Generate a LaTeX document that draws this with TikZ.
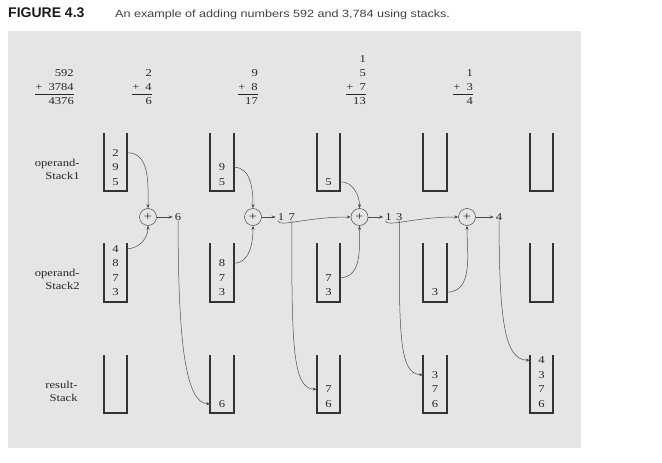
\documentclass[tikz,border=0pt]{standalone}
\usepackage{fontspec}
\setmainfont{Liberation Serif}[FakeStretch=1.2]
\newfontfamily\capfont{Liberation Sans}[FakeStretch=1.2]
\newfontfamily\figfont{Liberation Sans}
\usetikzlibrary{positioning,arrows.meta}
\newcommand{\plusgap}{+\hspace{6pt}}

\begin{document}
\begin{tikzpicture}[x=1pt,y=-1pt,every node/.style={text=black!85},stk/.style={minimum width=23pt, minimum height=58pt, inner sep=0pt},wall/.style={draw=black!80, line width=1.8pt},digit/.style={inner sep=0pt, text height=7pt, text depth=0pt, font=\fontsize{10.5}{12}\selectfont},plus/.style={circle, draw=black!70, line width=0.5pt, minimum size=17pt, inner sep=0pt, font=\fontsize{12}{12}\selectfont},link/.style={draw=black!70, line width=0.5pt, -{Stealth[length=4pt,width=3pt]}},sumrow/.style={anchor=base east, inner sep=0pt, font=\fontsize{10.5}{14}\selectfont},side/.style={align=right, inner sep=0pt, font=\fontsize{10.5}{13}\selectfont}]
\useasboundingbox (0,0) rectangle (662,463);
\fill[black!10] (8,31) rectangle (581,448);
\node[anchor=base west, inner sep=0pt, text=black!90, font=\figfont\fontsize{14}{14}\selectfont\bfseries] (fig) at (8,17) {FIGURE 4.3};
\node[anchor=base west, inner sep=0pt, text=black!75, font=\capfont\fontsize{10.5}{12}\selectfont] (cap) at (115,17) {An example of adding numbers 592 and 3,784 using stacks.};
% the three rows of stacks
\foreach \i/\x in {1/115.5,2/222,3/328.5,4/435,5/541.5} {
  \node[stk] (a\i) at (\x,162) {};
  \node[stk] (b\i) at (\x,272.5) {};
  \node[stk] (r\i) at (\x,384) {};
  \draw[wall] (a\i.north west) |- (a\i.south east) -- (a\i.north east);
  \draw[wall] (b\i.north west) |- (b\i.south east) -- (b\i.north east);
  \draw[wall] (r\i.north west) |- (r\i.south east) -- (r\i.north east);
}
\node[side, left=24pt of a1.west, yshift=-7pt] (lab1) {operand-\\Stack1};
\node[side, left=24pt of b1.west, yshift=-7pt] (lab2) {operand-\\Stack2};
\node[side, left=26pt of r1.west, yshift=-7pt] (lab3) {result-\\Stack};
% stack contents, bottom first
\foreach \s/\ds in {a1/{5,9,2},a2/{5,9},a3/{5},b1/{3,7,8,4},b2/{3,7,8},b3/{3,7},b4/{3},r2/{6},r3/{6,7},r4/{6,7,3},r5/{6,7,3,4}}
  \foreach \d [count=\k] in \ds
    \node[digit] (\s-\k) at ([yshift=9.5pt+14.5pt*(\k-1)]\s.south) {\d};
% sums on top
\node[sumrow] (ar0) at (74,104.5) {\begin{tabular}[b]{@{}r@{}}592\\\plusgap3784\\\hline 4376\end{tabular}};
\node[sumrow] (ar1) at (152,104.5) {\begin{tabular}[b]{@{}r@{}}2\\\plusgap4\\\hline 6\end{tabular}};
\node[sumrow] (ar2) at (258,104.5) {\begin{tabular}[b]{@{}r@{}}9\\\plusgap8\\\hline 17\end{tabular}};
\node[sumrow] (ar3) at (366,104.5) {\begin{tabular}[b]{@{}r@{}}1\\5\\\plusgap7\\\hline 13\end{tabular}};
\node[sumrow] (ar4) at (473,104.5) {\begin{tabular}[b]{@{}r@{}}1\\\plusgap3\\\hline 4\end{tabular}};
% adders
\foreach \i/\x in {1/148,2/253,3/359.5,4/467}
  \node[plus] (p\i) at (\x,217) {+};
\node[digit, right=18pt of p1] (s1) {6};
\node[digit, right=16pt of p2] (c2) {1};
\node[digit, right=4pt of c2] (u2) {7};
\node[digit, right=17pt of p3] (c3) {1};
\node[digit, right=4pt of c3] (u3) {3};
\node[digit, right=20pt of p4] (u4) {4};
\draw[link] (a1-3 -| a1.east) to[out=0,in=90] (p1.north);
\draw[link] (b1-4 -| b1.east) to[out=0,in=-90] (p1.south);
\draw[link] (a2-2 -| a2.east) to[out=0,in=90] (p2.north);
\draw[link] (b2-3 -| b2.east) to[out=0,in=-90] (p2.south);
\draw[link] (a3-1 -| a3.east) to[out=0,in=90] (p3.north);
\draw[link] (b3-2 -| b3.east) to[out=0,in=-90] (p3.south);
\draw[link] (b4-1 -| b4.east) to[out=0,in=-90] (p4.south);
\draw[link, shorten >=2pt] (p1) -- (s1);
\draw[link, shorten >=2pt] (p2) -- (c2);
\draw[link, shorten >=2pt] (p3) -- (c3);
\draw[link, shorten >=2pt] (p4) -- (u4);
% carries
\draw[link] (c2.south west) .. controls +(2,7) and +(-45,0) .. (p3.west);
\draw[link] (c3.south west) .. controls +(2,7) and +(-45,0) .. (p4.west);
% digits pushed on resultStack
\draw[link] (s1.south) .. controls +(0,120) and +(-25,0) .. (r2-1 -| r2.west);
\draw[link] (u2.south) .. controls +(0,120) and +(-25,0) .. (r3-2 -| r3.west);
\draw[link] (u3.south) .. controls +(0,110) and +(-25,0) .. (r4-3 -| r4.west);
\draw[link] (u4.south) .. controls +(0,100) and +(-25,0) .. (r5-4 -| r5.west);
\end{tikzpicture}
\end{document}
